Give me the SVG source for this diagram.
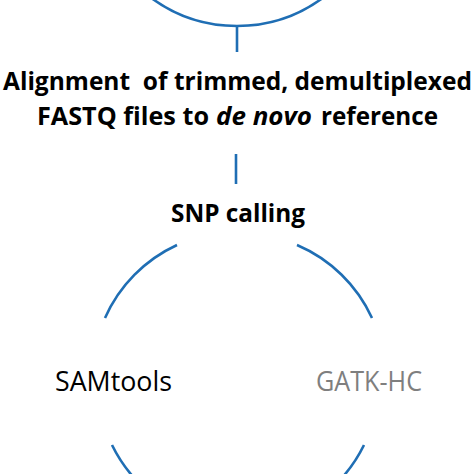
<svg xmlns="http://www.w3.org/2000/svg" width="474" height="474" viewBox="0 0 474 474">
<style>
.c{fill:none;stroke:#1F6EB4;stroke-width:2.6;stroke-linecap:butt}
.b{font-family:"Open Sans","Liberation Sans",sans-serif;font-weight:bold;fill:#000}
.r{font-family:"Open Sans","Liberation Sans",sans-serif;font-weight:normal}
</style>
<rect width="474" height="474" fill="#fff"/>
<g id="connectors">
<path class="c" d="M147.4 -5 A145 145 0 0 0 326.6 -5"/>
<line class="c" x1="237" y1="26" x2="237" y2="52"/>
<line class="c" x1="236" y1="154" x2="236" y2="184"/>
<path class="c" d="M177 245 A145 145 0 0 0 105 318"/>
<path class="c" d="M297 245 A145 145 0 0 1 372 318"/>
<path class="c" d="M112 445 A145 145 0 0 0 136 480"/>
<path class="c" d="M364 445 A145 145 0 0 1 340 480"/>
</g>
<g id="alignment">
<text class="b" font-size="25.5" x="3" y="90" textLength="469" lengthAdjust="spacingAndGlyphs" xml:space="preserve">Alignment  of trimmed, demultiplexed</text>
<text class="b" font-size="25.5" y="125"><tspan x="37" textLength="172" lengthAdjust="spacingAndGlyphs">FASTQ files to</tspan><tspan x="216" font-style="italic" textLength="96" lengthAdjust="spacingAndGlyphs">de novo</tspan><tspan x="321" textLength="117" lengthAdjust="spacingAndGlyphs">reference</tspan></text>
</g>
<g id="snp">
<text class="b" font-size="25" x="171" y="221.5" textLength="134" lengthAdjust="spacingAndGlyphs">SNP calling</text>
</g>
<g id="samtools">
<text class="r" font-size="26.5" x="55" y="390.5" fill="#000" textLength="117" lengthAdjust="spacingAndGlyphs">SAMtools</text>
</g>
<g id="gatk">
<text class="r" font-size="26.5" x="316" y="390.5" fill="#7F7F7F" textLength="106" lengthAdjust="spacingAndGlyphs">GATK-HC</text>
</g>
</svg>
